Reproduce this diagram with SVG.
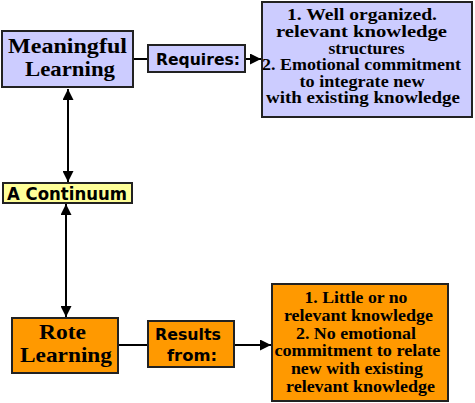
<svg xmlns="http://www.w3.org/2000/svg" width="475" height="403" viewBox="0 0 475 403">
<defs>
<marker id="ah" viewBox="0 0 10 10" refX="10" refY="5" markerWidth="11" markerHeight="11" markerUnits="userSpaceOnUse" orient="auto-start-reverse">
<path d="M0,0 L10,5 L0,10 z" fill="#000"/>
</marker>
<style>
.box{stroke:#222;stroke-width:2}
.blue{fill:#ccccff}
.orange{fill:#ff9900}
.yellow{fill:#ffff99}
.serif{font-family:"Liberation Serif","Times New Roman",serif;font-weight:bold;fill:#000;text-anchor:middle}
.sans{font-family:"DejaVu Sans","Liberation Sans",sans-serif;font-weight:bold;fill:#000;text-anchor:middle}
.conn{stroke:#000;stroke-width:2;fill:none}
</style>
</defs>
<g id="connectors">
<line class="conn" x1="133" y1="59" x2="148" y2="59"/>
<line class="conn" x1="245" y1="59" x2="261" y2="59" marker-end="url(#ah)"/>
<line class="conn" x1="68" y1="89" x2="68" y2="182" marker-start="url(#ah)" marker-end="url(#ah)"/>
<line class="conn" x1="66" y1="204" x2="66" y2="317" marker-start="url(#ah)" marker-end="url(#ah)"/>
<line class="conn" x1="118" y1="345" x2="148" y2="345"/>
<line class="conn" x1="234" y1="345" x2="271" y2="345" marker-end="url(#ah)"/>
</g>
<g id="meaningful">
<rect class="box blue" x="2" y="31" width="131" height="56"/>
<text class="serif" font-size="21.5" x="67.5" y="52.5" textLength="119" lengthAdjust="spacingAndGlyphs">Meaningful</text>
<text class="serif" font-size="21.5" x="70" y="75.5" textLength="90" lengthAdjust="spacingAndGlyphs">Learning</text>
</g>
<g id="requires">
<rect class="box blue" x="148" y="45" width="97" height="27"/>
<text class="sans" font-size="16" x="198" y="65" textLength="84" lengthAdjust="spacingAndGlyphs">Requires:</text>
</g>
<g id="requirements">
<rect class="box blue" x="262" y="2" width="210" height="115"/>
<text class="serif" font-size="16">
<tspan x="364" y="20" textLength="150" lengthAdjust="spacingAndGlyphs">1. Well organized.</tspan>
<tspan x="363.5" y="37" textLength="171" lengthAdjust="spacingAndGlyphs">relevant  knowledge</tspan>
<tspan x="368.5" y="54" textLength="76" lengthAdjust="spacingAndGlyphs">structures</tspan>
<tspan x="363.5" y="70" textLength="199" lengthAdjust="spacingAndGlyphs">2. Emotional commitment</tspan>
<tspan x="364" y="87" textLength="125" lengthAdjust="spacingAndGlyphs">to integrate new</tspan>
<tspan x="363" y="103" textLength="194" lengthAdjust="spacingAndGlyphs">with existing knowledge</tspan>
</text>
</g>
<g id="continuum">
<rect class="box yellow" x="3" y="183" width="129" height="20"/>
<text class="sans" font-size="17" x="67" y="200" textLength="120" lengthAdjust="spacingAndGlyphs">A Continuum</text>
</g>
<g id="rote">
<rect class="box orange" x="12" y="318" width="106" height="55"/>
<text class="serif" font-size="22" x="62.5" y="339" textLength="47" lengthAdjust="spacingAndGlyphs">Rote</text>
<text class="serif" font-size="22" x="66" y="362" textLength="92" lengthAdjust="spacingAndGlyphs">Learning</text>
</g>
<g id="results">
<rect class="box orange" x="148" y="321" width="86" height="46"/>
<text class="sans" font-size="16" x="188" y="340" textLength="66" lengthAdjust="spacingAndGlyphs">Results</text>
<text class="sans" font-size="16" x="192" y="361" textLength="50" lengthAdjust="spacingAndGlyphs">from:</text>
</g>
<g id="conditions">
<rect class="box orange" x="272" y="284" width="176" height="117"/>
<text class="serif" font-size="16.5">
<tspan x="358" y="303" textLength="103" lengthAdjust="spacingAndGlyphs">1. Little or no</tspan>
<tspan x="360.5" y="321" textLength="149" lengthAdjust="spacingAndGlyphs">relevant knowledge</tspan>
<tspan x="358" y="338.5" textLength="120" lengthAdjust="spacingAndGlyphs">2. No emotional</tspan>
<tspan x="359.5" y="356" textLength="166" lengthAdjust="spacingAndGlyphs">commitment to relate</tspan>
<tspan x="359" y="374" textLength="132" lengthAdjust="spacingAndGlyphs">new with existing</tspan>
<tspan x="360.5" y="392" textLength="149" lengthAdjust="spacingAndGlyphs">relevant knowledge</tspan>
</text>
</g>
</svg>
